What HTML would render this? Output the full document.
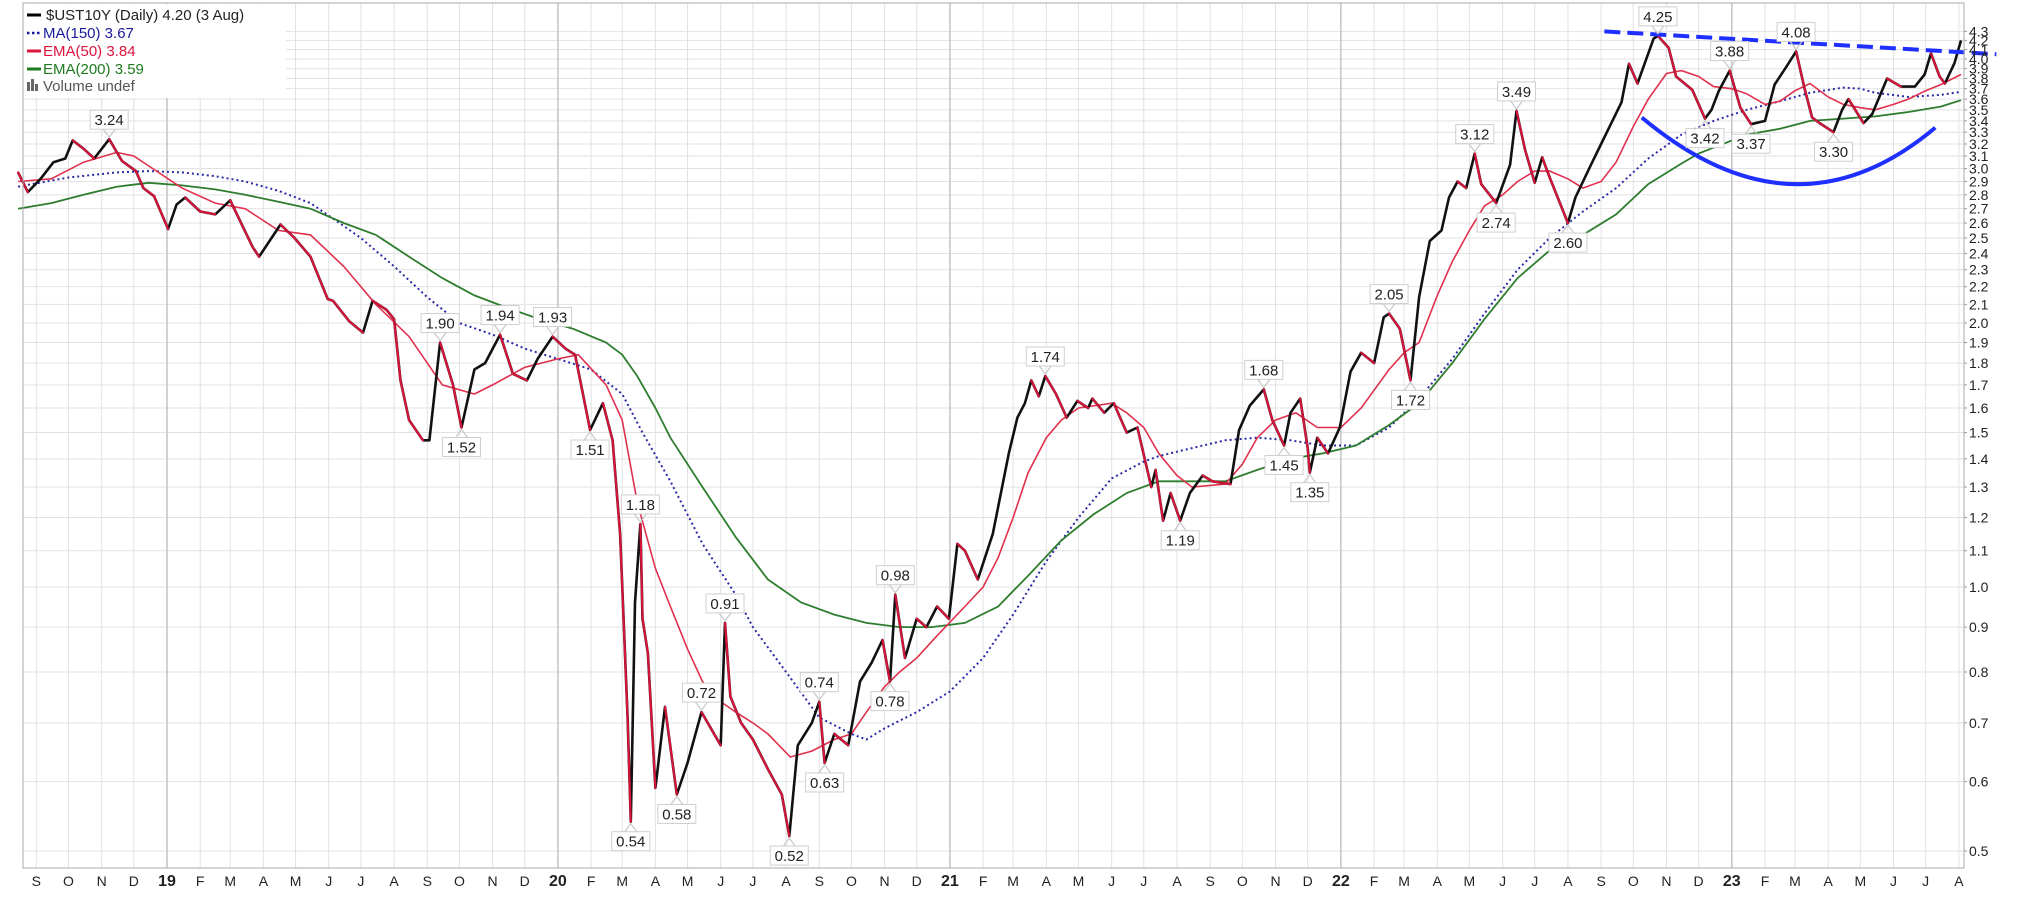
<!DOCTYPE html>
<html><head><meta charset="utf-8">
<style>
html,body{margin:0;padding:0;background:#fff;}
body{width:2019px;height:893px;overflow:hidden;font-family:"Liberation Sans",sans-serif;}
svg text{font-family:"Liberation Sans",sans-serif;}
</style></head>
<body>
<svg id="chart" width="2019" height="893" viewBox="0 0 2019 893" xmlns="http://www.w3.org/2000/svg">
<rect x="0" y="0" width="2019" height="893" fill="#fff"/>
<g id="grid"></g>
<g id="series"></g>
<g id="annot"></g>
<g id="axes"></g>
<g id="legend">
<rect x="24" y="4" width="262" height="94" fill="#fff"/>
<g><line x1="27" y1="15" x2="41" y2="15" stroke="#000" stroke-width="3"/><text x="46" y="20" font-size="15" fill="#222">$UST10Y (Daily) 4.20 (3 Aug)</text></g>
<g><line x1="27" y1="33" x2="41" y2="33" stroke="#1a1a9c" stroke-width="2.5" stroke-dasharray="2.5,2.5"/><text x="43" y="38" font-size="15" fill="#1a1a9c">MA(150) 3.67</text></g>
<g><line x1="27" y1="51" x2="41" y2="51" stroke="#dc143c" stroke-width="3"/><text x="43" y="56" font-size="15" fill="#dc143c">EMA(50) 3.84</text></g>
<g><line x1="27" y1="69" x2="41" y2="69" stroke="#1e7a1e" stroke-width="3"/><text x="43" y="74" font-size="15" fill="#1e7a1e">EMA(200) 3.59</text></g>
<g><rect x="27" y="82" width="3" height="9" fill="#666"/><rect x="31" y="79" width="3" height="12" fill="#666"/><rect x="35" y="84" width="3" height="7" fill="#666"/><text x="43" y="91" font-size="15" fill="#555">Volume undef</text></g>
</g>
</svg>
<script>
// ---------- data ----------
const priceDates = ["2018-08-15","2018-08-24","2018-09-05","2018-09-17","2018-09-28","2018-10-05","2018-10-15","2018-10-25","2018-11-08","2018-11-20","2018-12-03","2018-12-10","2018-12-20","2019-01-02","2019-01-10","2019-01-18","2019-02-01","2019-02-15","2019-03-01","2019-03-22","2019-03-28","2019-04-17","2019-04-30","2019-05-15","2019-05-31","2019-06-05","2019-06-20","2019-07-03","2019-07-12","2019-07-25","2019-08-01","2019-08-07","2019-08-15","2019-08-28","2019-09-03","2019-09-13","2019-09-25","2019-10-03","2019-10-15","2019-10-25","2019-11-08","2019-11-20","2019-12-03","2019-12-13","2019-12-27","2020-01-08","2020-01-17","2020-01-31","2020-02-12","2020-02-21","2020-02-28","2020-03-06","2020-03-09","2020-03-13","2020-03-18","2020-03-20","2020-03-25","2020-04-01","2020-04-10","2020-04-21","2020-05-01","2020-05-14","2020-06-01","2020-06-05","2020-06-10","2020-06-20","2020-07-01","2020-07-15","2020-07-28","2020-08-04","2020-08-12","2020-08-25","2020-09-01","2020-09-06","2020-09-15","2020-09-28","2020-10-09","2020-10-20","2020-10-30","2020-11-06","2020-11-11","2020-11-20","2020-12-01","2020-12-10","2020-12-20","2020-12-31","2021-01-08","2021-01-15","2021-01-27","2021-02-10","2021-02-25","2021-03-05","2021-03-12","2021-03-18","2021-03-25","2021-03-31","2021-04-10","2021-04-20","2021-04-30","2021-05-10","2021-05-14","2021-05-25","2021-06-03","2021-06-15","2021-06-25","2021-07-08","2021-07-12","2021-07-19","2021-07-26","2021-08-04","2021-08-13","2021-08-25","2021-09-03","2021-09-20","2021-09-28","2021-10-08","2021-10-21","2021-10-29","2021-11-09","2021-11-15","2021-11-24","2021-12-01","2021-12-03","2021-12-10","2021-12-20","2021-12-31","2022-01-10","2022-01-20","2022-02-01","2022-02-10","2022-02-15","2022-02-25","2022-03-07","2022-03-15","2022-03-25","2022-04-05","2022-04-12","2022-04-20","2022-04-28","2022-05-06","2022-05-12","2022-05-26","2022-06-08","2022-06-14","2022-06-22","2022-07-01","2022-07-08","2022-07-15","2022-08-01","2022-08-08","2022-08-22","2022-09-01","2022-09-20","2022-09-27","2022-10-05","2022-10-20","2022-10-24","2022-11-03","2022-11-10","2022-11-25","2022-12-07","2022-12-13","2022-12-20","2022-12-30","2023-01-09","2023-01-19","2023-02-01","2023-02-10","2023-02-21","2023-03-02","2023-03-10","2023-03-17","2023-03-24","2023-04-06","2023-04-14","2023-04-20","2023-05-04","2023-05-12","2023-05-26","2023-06-08","2023-06-21","2023-06-30","2023-07-06","2023-07-14","2023-07-19","2023-07-28","2023-08-03"];
const priceValues = [2.97,2.82,2.92,3.05,3.08,3.23,3.16,3.08,3.24,3.06,2.98,2.85,2.79,2.56,2.73,2.78,2.68,2.66,2.76,2.44,2.38,2.59,2.50,2.38,2.13,2.12,2.01,1.95,2.12,2.07,2.02,1.72,1.55,1.47,1.47,1.90,1.70,1.52,1.77,1.80,1.94,1.75,1.72,1.82,1.93,1.87,1.84,1.51,1.62,1.47,1.15,0.71,0.54,0.96,1.18,0.92,0.84,0.59,0.73,0.58,0.63,0.72,0.66,0.91,0.75,0.70,0.67,0.62,0.58,0.52,0.66,0.70,0.74,0.63,0.68,0.66,0.78,0.82,0.87,0.78,0.98,0.83,0.92,0.90,0.95,0.92,1.12,1.10,1.02,1.15,1.42,1.56,1.62,1.72,1.65,1.74,1.66,1.56,1.63,1.60,1.64,1.58,1.62,1.50,1.52,1.30,1.36,1.19,1.28,1.19,1.28,1.34,1.32,1.31,1.51,1.61,1.68,1.55,1.45,1.58,1.64,1.44,1.35,1.48,1.42,1.52,1.76,1.85,1.80,2.03,2.05,1.97,1.72,2.14,2.48,2.55,2.78,2.90,2.85,3.12,2.88,2.74,3.03,3.49,3.15,2.89,3.09,2.93,2.60,2.78,3.02,3.20,3.57,3.95,3.75,4.22,4.25,4.12,3.82,3.69,3.42,3.50,3.68,3.88,3.52,3.37,3.40,3.74,3.92,4.08,3.70,3.43,3.38,3.30,3.50,3.60,3.38,3.46,3.80,3.72,3.72,3.84,4.06,3.82,3.75,3.96,4.20];

const ema50Dates = ["2018-08-15","2018-09-15","2018-10-15","2018-11-15","2018-12-01","2018-12-15","2019-01-15","2019-02-15","2019-03-15","2019-04-15","2019-05-15","2019-06-15","2019-07-15","2019-08-15","2019-09-15","2019-10-15","2019-11-01","2019-12-01","2020-01-01","2020-01-20","2020-02-15","2020-03-01","2020-03-15","2020-04-01","2020-04-15","2020-05-01","2020-05-15","2020-06-01","2020-06-15","2020-07-01","2020-07-15","2020-08-05","2020-08-25","2020-09-15","2020-10-01","2020-10-15","2020-11-01","2020-11-15","2020-12-01","2020-12-20","2021-01-15","2021-02-01","2021-02-15","2021-03-01","2021-03-15","2021-04-01","2021-04-15","2021-05-01","2021-06-01","2021-06-15","2021-07-01","2021-07-15","2021-08-01","2021-08-15","2021-09-15","2021-10-01","2021-10-15","2021-11-01","2021-11-20","2021-12-10","2022-01-01","2022-01-20","2022-02-15","2022-03-01","2022-03-15","2022-04-01","2022-04-15","2022-05-01","2022-05-15","2022-06-01","2022-06-15","2022-07-01","2022-07-15","2022-08-01","2022-08-15","2022-09-01","2022-09-15","2022-10-01","2022-10-15","2022-11-01","2022-11-15","2022-12-01","2022-12-15","2023-01-01","2023-01-15","2023-02-01","2023-02-15","2023-03-01","2023-03-15","2023-04-01","2023-04-15","2023-05-01","2023-05-15","2023-06-01","2023-06-15","2023-07-01","2023-07-15","2023-08-03"];
const ema50Values = [2.90,2.92,3.05,3.13,3.10,3.02,2.85,2.74,2.70,2.55,2.52,2.32,2.10,1.93,1.70,1.66,1.70,1.78,1.82,1.84,1.70,1.55,1.25,1.05,0.95,0.85,0.78,0.74,0.72,0.70,0.68,0.64,0.65,0.67,0.68,0.72,0.77,0.80,0.83,0.88,0.95,1.00,1.08,1.20,1.35,1.48,1.55,1.60,1.62,1.58,1.52,1.42,1.34,1.30,1.31,1.38,1.48,1.55,1.58,1.52,1.52,1.60,1.77,1.85,1.90,2.15,2.35,2.55,2.72,2.80,2.90,2.98,2.98,2.92,2.85,2.90,3.05,3.35,3.60,3.85,3.88,3.82,3.72,3.70,3.65,3.55,3.58,3.68,3.75,3.62,3.55,3.52,3.50,3.55,3.60,3.68,3.74,3.84];

const ma150Dates = ["2018-08-15","2018-10-01","2018-11-15","2018-12-15","2019-01-15","2019-02-15","2019-03-15","2019-04-15","2019-05-15","2019-06-15","2019-07-01","2019-08-01","2019-09-01","2019-10-01","2019-11-01","2019-12-01","2020-01-01","2020-02-01","2020-03-01","2020-03-20","2020-04-15","2020-05-15","2020-06-15","2020-07-01","2020-08-01","2020-09-01","2020-10-01","2020-10-15","2020-11-01","2020-12-01","2021-01-01","2021-02-01","2021-03-01","2021-04-01","2021-05-01","2021-06-01","2021-07-01","2021-07-15","2021-08-15","2021-09-15","2021-10-15","2021-11-15","2021-12-15","2022-01-15","2022-02-15","2022-03-15","2022-04-15","2022-05-15","2022-06-15","2022-07-15","2022-08-15","2022-09-15","2022-10-15","2022-11-15","2022-12-15","2023-01-15","2023-02-15","2023-03-15","2023-04-15","2023-05-01","2023-05-15","2023-06-15","2023-07-15","2023-08-03"];
const ma150Values = [2.86,2.93,2.97,2.98,2.97,2.94,2.90,2.83,2.74,2.58,2.50,2.32,2.14,2.00,1.94,1.87,1.82,1.77,1.66,1.50,1.32,1.12,0.98,0.90,0.80,0.71,0.68,0.67,0.69,0.72,0.76,0.83,0.93,1.07,1.20,1.33,1.39,1.41,1.44,1.47,1.48,1.47,1.45,1.45,1.52,1.64,1.82,2.05,2.30,2.50,2.68,2.85,3.08,3.28,3.40,3.50,3.58,3.66,3.71,3.70,3.66,3.62,3.64,3.67];

const ema200Dates = ["2018-08-15","2018-09-15","2018-10-15","2018-11-15","2018-12-15","2019-01-15","2019-02-15","2019-03-15","2019-04-15","2019-05-15","2019-06-15","2019-07-15","2019-08-15","2019-09-15","2019-10-15","2019-11-15","2019-12-15","2020-01-15","2020-02-15","2020-03-01","2020-03-15","2020-04-01","2020-04-15","2020-05-15","2020-06-15","2020-07-15","2020-08-15","2020-09-15","2020-10-15","2020-11-15","2020-12-15","2021-01-15","2021-02-15","2021-03-15","2021-04-15","2021-05-15","2021-06-15","2021-07-15","2021-08-15","2021-09-15","2021-10-15","2021-11-15","2021-12-15","2022-01-15","2022-02-15","2022-03-15","2022-04-15","2022-05-15","2022-06-15","2022-07-15","2022-08-15","2022-09-15","2022-10-15","2022-11-15","2022-12-01","2023-01-15","2023-02-15","2023-03-15","2023-04-15","2023-05-15","2023-06-15","2023-07-15","2023-08-03"];
const ema200Values = [2.70,2.74,2.80,2.86,2.89,2.87,2.84,2.80,2.75,2.70,2.60,2.52,2.38,2.25,2.15,2.08,2.02,1.97,1.90,1.84,1.74,1.60,1.48,1.30,1.14,1.02,0.96,0.93,0.91,0.90,0.90,0.91,0.95,1.03,1.13,1.21,1.28,1.32,1.32,1.32,1.36,1.40,1.42,1.45,1.53,1.62,1.80,2.02,2.25,2.42,2.52,2.66,2.88,3.04,3.12,3.28,3.33,3.40,3.42,3.44,3.48,3.53,3.59];

const peakDates = ["2018-11-08","2019-09-13","2019-11-08","2019-12-27","2020-03-18","2020-05-14","2020-06-05","2020-09-01","2020-11-11","2021-03-31","2021-10-21","2022-02-15","2022-05-06","2022-06-14","2022-10-24","2022-12-30","2023-03-02"];
const peakLabels = ["3.24","1.90","1.94","1.93","1.18","0.72","0.91","0.74","0.98","1.74","1.68","2.05","3.12","3.49","4.25","3.88","4.08"];
const peakValues = [3.24,1.90,1.94,1.93,1.18,0.72,0.91,0.74,0.98,1.74,1.68,2.05,3.12,3.49,4.25,3.88,4.08];
const troughDates = ["2019-10-03","2020-01-31","2020-03-09","2020-04-21","2020-08-04","2020-09-06","2020-11-06","2021-08-04","2021-11-09","2021-12-03","2022-03-07","2022-05-26","2022-08-01","2022-12-07","2023-01-19","2023-04-06"];
const troughLabels = ["1.52","1.51","0.54","0.58","0.52","0.63","0.78","1.19","1.45","1.35","1.72","2.74","2.60","3.42","3.37","3.30"];
const troughValues = [1.52,1.51,0.54,0.58,0.52,0.63,0.78,1.19,1.45,1.35,1.72,2.74,2.60,3.42,3.37,3.30];

const trendDates = ["2022-09-04","2023-09-05"];
const trendValues = [4.30,4.05];
const arcDates = ["2022-10-09","2023-02-26","2023-07-10"];
const arcValues = [3.43,2.88,3.34];

const yTicks = [0.5,0.6,0.7,0.8,0.9,1.0,1.1,1.2,1.3,1.4,1.5,1.6,1.7,1.8,1.9,2.0,2.1,2.2,2.3,2.4,2.5,2.6,2.7,2.8,2.9,3.0,3.1,3.2,3.3,3.4,3.5,3.6,3.7,3.8,3.9,4.0,4.1,4.2,4.3];
const monthLabels = ["S","O","N","D","19","F","M","A","M","J","J","A","S","O","N","D","20","F","M","A","M","J","J","A","S","O","N","D","21","F","M","A","M","J","J","A","S","O","N","D","22","F","M","A","M","J","J","A","S","O","N","D","23","F","M","A","M","J","J","A"];
const firstMonth = "2018-09-01";

// ---------- axes ----------
const L=23, R=1964, T=3, B=868;
const NS="http://www.w3.org/2000/svg";
function tYears(d){const p=d.split('-').map(Number);return (Date.UTC(p[0],p[1]-1,p[2])-Date.UTC(2019,0,1))/(365.25*864e5);}
function xS(d){return 167+391.2*tYears(d);}
function yS(v){return 587-380.9*Math.log(v);}
function mk(tag,attrs,parent){const e=document.createElementNS(NS,tag);for(const k in attrs)e.setAttribute(k,attrs[k]);parent.appendChild(e);return e;}
const grid=document.getElementById('grid'),series=document.getElementById('series'),annot=document.getElementById('annot'),axes=document.getElementById('axes');

// horizontal grid + y labels
yTicks.forEach(v=>{
  const y=yS(v);
  const g=mk('line',{x1:L,x2:R,y1:y,y2:y,stroke:'#e2e2e2','stroke-width':1},grid);
  
  
  const t=mk('text',{x:R+5,y:y+5,'font-size':14,fill:'#222'},axes);
  
  
  t.textContent=v.toFixed(1);
  const tk=mk('line',{x1:R,x2:R+3,y1:y,y2:y,stroke:'#999'},axes);
  
  
});
// vertical grid + x labels
(function(){
  const p=firstMonth.split('-').map(Number);
  monthLabels.forEach((lab,i)=>{
    const yy=p[0]+Math.floor((p[1]-1+i)/12), mm=(p[1]-1+i)%12+1;
    const d=yy+'-'+String(mm).padStart(2,'0')+'-01';
    const x=xS(d);
    const isYear=/\d/.test(lab);
    const g=mk('line',{x1:x,x2:x,y1:T,y2:B,stroke:isYear?'#c4c4c4':'#e2e2e2','stroke-width':isYear?1.5:1},grid);
    
    
    const t=mk('text',{x:x,y:886,'font-size':isYear?16:14,'font-weight':isYear?'bold':'normal','text-anchor':'middle',fill:'#222'},axes);
    
    
    t.textContent=lab;
  });
})();
const border=mk('rect',{x:L,y:T,width:R-L,height:B-T,fill:'none',stroke:'#aaa','stroke-width':1},axes);



// ---------- series ----------
function pathFrom(ds,vs){return ds.map((d,i)=>(i?'L':'M')+xS(d).toFixed(1)+','+yS(vs[i]).toFixed(1)).join(' ');}
const pMa=mk('path',{d:pathFrom(ma150Dates,ma150Values),fill:'none',stroke:'#2a2aa8','stroke-width':2,'stroke-dasharray':'2,3'},series);


const pE2=mk('path',{d:pathFrom(ema200Dates,ema200Values),fill:'none',stroke:'#2e7d2e','stroke-width':1.8},series);


const pE5=mk('path',{d:pathFrom(ema50Dates,ema50Values),fill:'none',stroke:'#e0304e','stroke-width':1.6},series);


const pP=mk('path',{d:pathFrom(priceDates,priceValues),fill:'none',stroke:'#111','stroke-width':2.6,'stroke-linejoin':'round'},series);


for(let i=1;i<priceDates.length;i++){
  if(priceValues[i]<priceValues[i-1]){
    const s=mk('line',{x1:xS(priceDates[i-1]),y1:yS(priceValues[i-1]),x2:xS(priceDates[i]),y2:yS(priceValues[i]),stroke:'#d4143a','stroke-width':2.2,'stroke-linecap':'round'},series);
    
    
  }
}

// ---------- annotations ----------
const tl=mk('line',{x1:xS(trendDates[0]),y1:yS(trendValues[0]),x2:xS(trendDates[1]),y2:yS(trendValues[1]),stroke:'#1f2fff','stroke-width':4,'stroke-dasharray':'16,7'},annot);


(function(){
  const p=arcDates.map((d,i)=>[xS(d),yS(arcValues[i])]);
  const cx=2*p[1][0]-(p[0][0]+p[2][0])/2, cy=2*p[1][1]-(p[0][1]+p[2][1])/2;
  const a=mk('path',{d:`M${p[0][0]},${p[0][1]} Q${cx},${cy} ${p[2][0]},${p[2][1]}`,fill:'none',stroke:'#1f2fff','stroke-width':4},annot);
  
  
})();
function valueLabel(d,v,txt,above){
  const x=xS(d), y=yS(v);
  const w=txt.length*8+6, h=19;
  const by=above? y-10-h : y+10;
  const g=mk('g',{},annot);
  
  
  const py=above? y-2 : y+2, ey=above? by+h : by;
  mk('path',{d:`M${x-6},${ey} L${x},${py} L${x+6},${ey}`,fill:'none',stroke:'#c8c8c8','stroke-width':1.2},g);
  mk('rect',{x:x-w/2,y:by,width:w,height:h,fill:'#fff',stroke:'#cfcfcf','stroke-width':1},g);
  const t=mk('text',{x:x,y:by+15,'font-size':15,'text-anchor':'middle',fill:'#222'},g);
  t.textContent=txt;
}
peakDates.forEach((d,i)=>valueLabel(d,peakValues[i],peakLabels[i],true));
troughDates.forEach((d,i)=>valueLabel(d,troughValues[i],troughLabels[i],false));
</script>
</body></html>
